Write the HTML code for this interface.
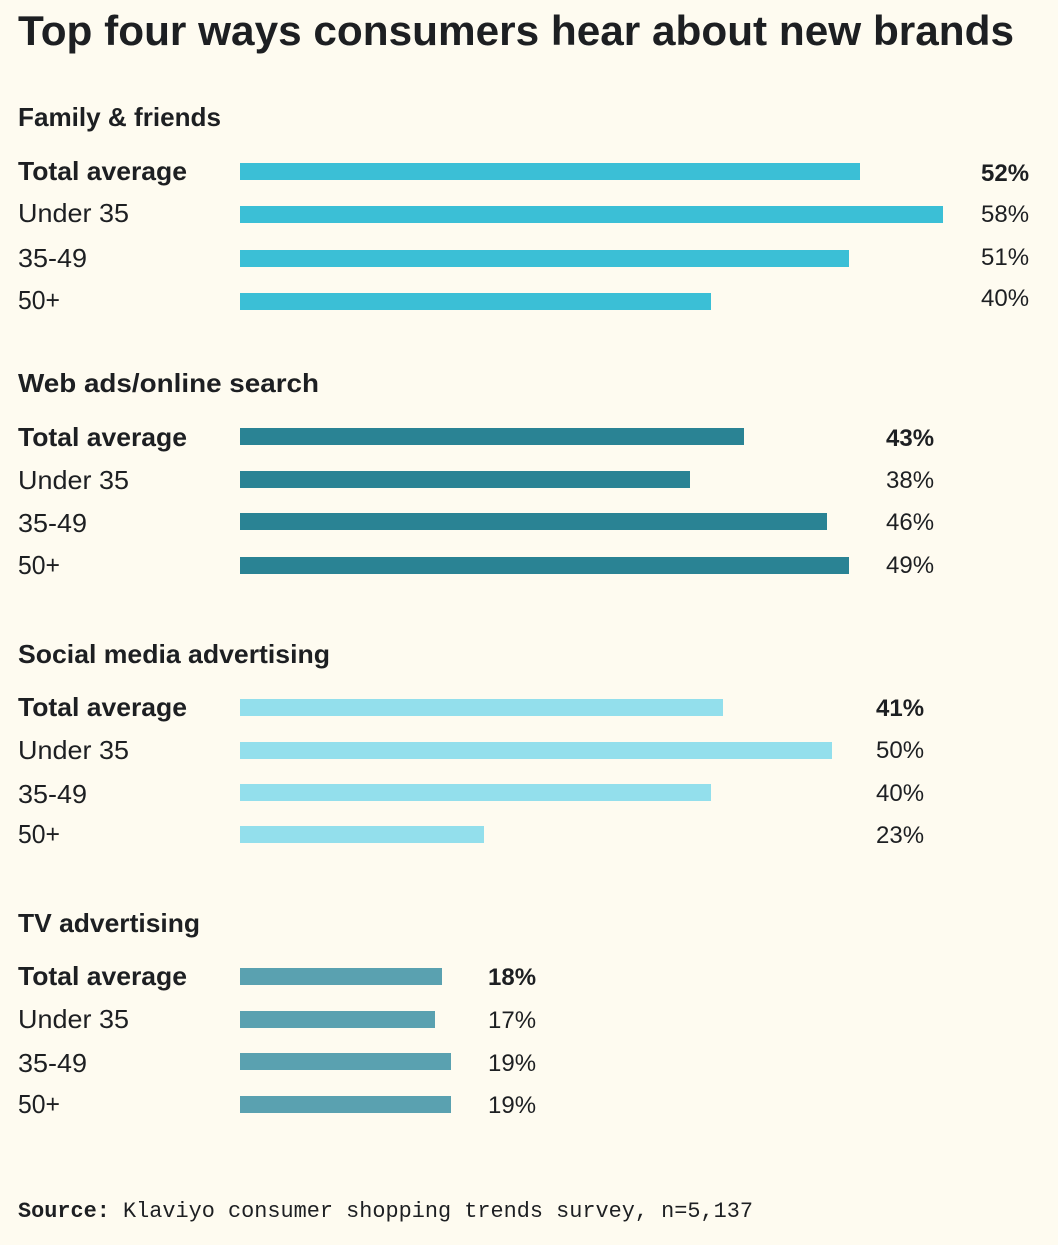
<!DOCTYPE html>
<html>
<head>
<meta charset="utf-8">
<style>
  html, body { margin: 0; padding: 0; background: #fefbf0; }
  svg { display: block; }
  text { font-family: "Liberation Sans", sans-serif; fill: #1d1f22; }
  .t { font-size: 42px; font-weight: 600; }
  .h { font-size: 26px; font-weight: 700; }
  .lb { font-size: 26px; font-weight: 700; }
  .lr { font-size: 26px; font-weight: 400; }
  .vb { font-size: 24px; font-weight: 700; }
  .vr { font-size: 24px; font-weight: 400; }
  .src { font-family: "Liberation Mono", monospace; font-size: 22px; }
</style>
</head>
<body>
<svg width="1058" height="1245" viewBox="0 0 1058 1245" xmlns="http://www.w3.org/2000/svg">
  <rect width="1058" height="1245" fill="#fefbf0"/>
  <text class="t" x="18" y="45" textLength="996" lengthAdjust="spacingAndGlyphs">Top four ways consumers hear about new brands</text>

  <!-- Family & friends -->
  <text class="h" x="18" y="126" textLength="203" lengthAdjust="spacingAndGlyphs">Family &amp; friends</text>
  <g fill="#3bbfd6">
    <rect x="240" y="163" width="620" height="17"/>
    <rect x="240" y="206" width="703" height="17"/>
    <rect x="240" y="250" width="609" height="17"/>
    <rect x="240" y="293" width="471" height="17"/>
  </g>
  <text class="lb" x="18" y="180" textLength="169" lengthAdjust="spacingAndGlyphs">Total average</text>
  <text class="lr" x="18" y="222" textLength="111" lengthAdjust="spacingAndGlyphs">Under 35</text>
  <text class="lr" x="18" y="267" textLength="69" lengthAdjust="spacingAndGlyphs">35-49</text>
  <text class="lr" x="18" y="309" textLength="42" lengthAdjust="spacingAndGlyphs">50+</text>
  <text class="vb" x="981" y="181">52%</text>
  <text class="vr" x="981" y="222">58%</text>
  <text class="vr" x="981" y="265">51%</text>
  <text class="vr" x="981" y="306">40%</text>

  <!-- Web ads -->
  <text class="h" x="18" y="392" textLength="301" lengthAdjust="spacingAndGlyphs">Web ads/online search</text>
  <g fill="#2a8394">
    <rect x="240" y="428" width="504" height="17"/>
    <rect x="240" y="471" width="450" height="17"/>
    <rect x="240" y="513" width="587" height="17"/>
    <rect x="240" y="557" width="609" height="17"/>
  </g>
  <text class="lb" x="18" y="446" textLength="169" lengthAdjust="spacingAndGlyphs">Total average</text>
  <text class="lr" x="18" y="489" textLength="111" lengthAdjust="spacingAndGlyphs">Under 35</text>
  <text class="lr" x="18" y="532" textLength="69" lengthAdjust="spacingAndGlyphs">35-49</text>
  <text class="lr" x="18" y="574" textLength="42" lengthAdjust="spacingAndGlyphs">50+</text>
  <text class="vb" x="886" y="446">43%</text>
  <text class="vr" x="886" y="488">38%</text>
  <text class="vr" x="886" y="530">46%</text>
  <text class="vr" x="886" y="573">49%</text>

  <!-- Social media -->
  <text class="h" x="18" y="663" textLength="312" lengthAdjust="spacingAndGlyphs">Social media advertising</text>
  <g fill="#93dfec">
    <rect x="240" y="699" width="483" height="17"/>
    <rect x="240" y="742" width="592" height="17"/>
    <rect x="240" y="784" width="471" height="17"/>
    <rect x="240" y="826" width="244" height="17"/>
  </g>
  <text class="lb" x="18" y="716" textLength="169" lengthAdjust="spacingAndGlyphs">Total average</text>
  <text class="lr" x="18" y="759" textLength="111" lengthAdjust="spacingAndGlyphs">Under 35</text>
  <text class="lr" x="18" y="803" textLength="69" lengthAdjust="spacingAndGlyphs">35-49</text>
  <text class="lr" x="18" y="843" textLength="42" lengthAdjust="spacingAndGlyphs">50+</text>
  <text class="vb" x="876" y="716">41%</text>
  <text class="vr" x="876" y="758">50%</text>
  <text class="vr" x="876" y="801">40%</text>
  <text class="vr" x="876" y="843">23%</text>

  <!-- TV -->
  <text class="h" x="18" y="932" textLength="182" lengthAdjust="spacingAndGlyphs">TV advertising</text>
  <g fill="#5aa1b0">
    <rect x="240" y="968" width="202" height="17"/>
    <rect x="240" y="1011" width="195" height="17"/>
    <rect x="240" y="1053" width="211" height="17"/>
    <rect x="240" y="1096" width="211" height="17"/>
  </g>
  <text class="lb" x="18" y="985" textLength="169" lengthAdjust="spacingAndGlyphs">Total average</text>
  <text class="lr" x="18" y="1028" textLength="111" lengthAdjust="spacingAndGlyphs">Under 35</text>
  <text class="lr" x="18" y="1072" textLength="69" lengthAdjust="spacingAndGlyphs">35-49</text>
  <text class="lr" x="18" y="1113" textLength="42" lengthAdjust="spacingAndGlyphs">50+</text>
  <text class="vb" x="488" y="985">18%</text>
  <text class="vr" x="488" y="1028">17%</text>
  <text class="vr" x="488" y="1071">19%</text>
  <text class="vr" x="488" y="1113">19%</text>

  <!-- Source -->
  <text class="src" x="18" y="1217" textLength="735" lengthAdjust="spacingAndGlyphs"><tspan font-weight="700">Source:</tspan> Klaviyo consumer shopping trends survey, n=5,137</text>
</svg>
</body>
</html>
